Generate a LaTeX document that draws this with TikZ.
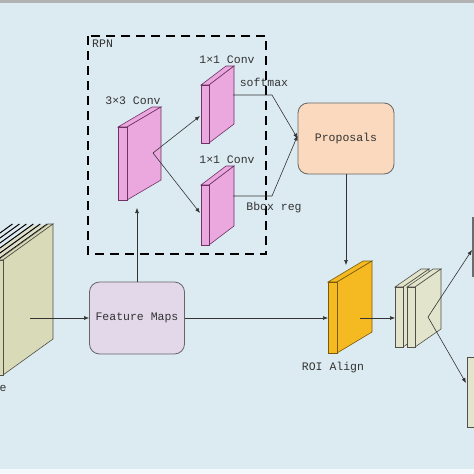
\documentclass[tikz,border=0pt]{standalone}
\usepackage{fontspec}
\setmonofont{Liberation Mono}
\usetikzlibrary{arrows.meta}

\definecolor{bgblue}{RGB}{220,235,242}
\definecolor{convpink}{RGB}{234,168,222}
\definecolor{convedge}{RGB}{110,50,100}
\definecolor{fmfill}{RGB}{226,216,234}
\definecolor{propfill}{RGB}{251,217,190}
\definecolor{roiorange}{RGB}{245,186,34}
\definecolor{roiedge}{RGB}{120,90,10}
\definecolor{beige}{RGB}{226,228,204}
\definecolor{beigeedge}{RGB}{80,80,70}
\definecolor{txt}{RGB}{50,50,50}

% slab: fill, edge, x0, y0, thickness, height, width, skew
\newcommand{\convslab}[8]{%
 \filldraw[fill=#1,draw=#2,line width=0.6pt] (#3,#4) -- ({#3+#7},{#4-#8}) -- ({#3+#5+#7},{#4-#8}) -- ({#3+#5},#4) -- cycle;
 \filldraw[fill=#1,draw=#2,line width=0.6pt] ({#3+#5},#4) -- ({#3+#5+#7},{#4-#8}) -- ({#3+#5+#7},{#4-#8+#6}) -- ({#3+#5},{#4+#6}) -- cycle;
 \filldraw[fill=#1,draw=#2,line width=0.6pt] (#3,#4) rectangle ({#3+#5},{#4+#6});
}

\tikzset{
 lbl/.style={font=\ttfamily\fontsize{11.5}{12}\selectfont, text=txt, inner sep=0pt},
 roundbox/.style={draw=gray!80!black, line width=0.8pt, rounded corners=10pt, align=center,
   font=\ttfamily\fontsize{11.5}{12}\selectfont, text=txt},
 conn/.style={draw=black!80, line width=0.6pt, -{Latex[length=5pt,width=4pt]}},
 wire/.style={draw=black!80, line width=0.6pt}
}

\begin{document}
\begin{tikzpicture}[x=1pt,y=-1pt]

 \fill[bgblue] (0,0) rectangle (474,474); % background
 \useasboundingbox (0,0) rectangle (474,474);
 \clip (0,0) rectangle (474,474);
 \fill[gray!60] (0,0) rectangle (474,3); % top rim
 \fill[white!70!bgblue] (0,469) rectangle (474,474); % bottom rim

% input image stack
 \fill[beige!80!black!10!beige] (-20,262) -- (30,226) -- (53,224) -- (3,260) -- cycle;
 \foreach \yy in {233,238,...,258}
   \draw[black, line width=1pt] (0,\yy) -- ({(\yy-224)/0.72},224);
 \convslab{beige!90!olive}{beigeedge}{-2}{260}{5}{115}{50}{36}
 \node[lbl] (imglbl) at (3,388) {e};
 \coordinate (imgout) at (30,318);

% RPN frame
 \draw[black, line width=1.3pt, dash pattern=on 9pt off 6pt] (88,36) rectangle (266,254);
 \node[lbl, anchor=north west] (rpn) at (92,40) {RPN};

% conv layers
 \convslab{convpink}{convedge}{118}{127}{9}{73}{34}{20}
 \convslab{convpink}{convedge}{201}{85}{8}{58}{25}{19}
 \convslab{convpink}{convedge}{201}{185}{8}{60}{25}{19}
 \node[lbl] (c3lbl) at (133,101) {3×3 Conv};
 \node[lbl] (c1lbl) at (227,60) {1×1 Conv};
 \node[lbl] (c2lbl) at (227,160) {1×1 Conv};
 \node[lbl] (smlbl) at (264,82) {softmax};
 \node[lbl] (bblbl) at (274,208) {Bbox reg};

 \coordinate (c3out) at (153,153);
 \coordinate (c3in) at (137,208);
 \coordinate (c1in) at (200,116);
 \coordinate (c2in) at (200,213);
 \coordinate (c1out) at (233,95);
 \coordinate (c2out) at (233,196);
 \coordinate (c1bend) at (272,95);
 \coordinate (c2bend) at (272,196);

% boxes
 \node[roundbox, fill=fmfill, minimum width=95pt, minimum height=72pt] (fm) at (137,318) {Feature Maps};
 \node[roundbox, fill=propfill, minimum width=96pt, minimum height=71pt] (prop) at (346,138.5) {Proposals};

% ROI align and heads
 \convslab{roiorange}{roiedge}{328}{282}{9}{71}{35}{21}
 \node[lbl] (roilbl) at (333,368) {ROI Align};
 \coordinate (roiin) at (328,318);
 \coordinate (roitop) at (346,265);
 \coordinate (roiout) at (360,318);

 \convslab{beige}{beigeedge}{395}{287}{8}{60}{26}{18}
 \convslab{beige}{beigeedge}{407}{287}{8}{60}{26}{18}
 \coordinate (stkin) at (395,318);
 \coordinate (stkout) at (428,317);

 \fill[gray!85!black] (472,217) rectangle (474,277); % cut off head
 \filldraw[fill=beige, draw=beigeedge, line width=0.6pt] (467,357) rectangle (476,427);
 \coordinate (clsin) at (472,250);
 \coordinate (regin) at (466,383);

% connectors
 \draw[conn] (imgout) -- (fm.west);
 \draw[conn] (fm.east) -- (roiin);
 \draw[conn] (fm.north) -- (c3in);
 \draw[conn] (c3out) -- (c1in);
 \draw[conn] (c3out) -- (c2in);
 \draw[conn] (c1out) -- (c1bend) -- (prop.west);
 \draw[conn] (c2out) -- (c2bend) -- ([yshift=3pt]prop.west);
 \draw[conn] (prop.south) -- (roitop);
 \draw[conn] (roiout) -- (stkin);
 \draw[conn] (stkout) -- (clsin);
 \draw[conn] (stkout) -- (regin);

\end{tikzpicture}
\end{document}
